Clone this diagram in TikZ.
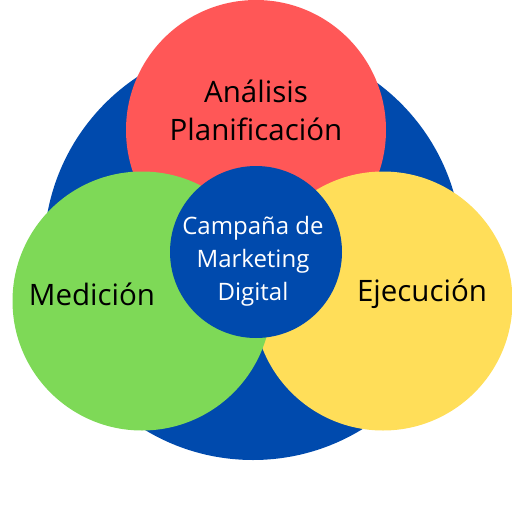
\documentclass[tikz,border=0pt]{standalone}
\usepackage{fontspec}
\setmainfont{Open Sans}
\usetikzlibrary{positioning}
\definecolor{cblue}{HTML}{004AAD}
\definecolor{cred}{HTML}{FF5757}
\definecolor{cgreen}{HTML}{7ED957}
\definecolor{cyellow}{HTML}{FFDE59}

\begin{document}
\begin{tikzpicture}[x=1pt,y=-1pt,
    disc/.style={circle,inner sep=0pt,minimum size=#1},
    bigtext/.style={font=\fontsize{29.5}{38}\selectfont,text=black,align=center},
    smalltext/.style={font=\fontsize{24}{33}\selectfont,text=white,align=center}]
    \useasboundingbox (0,0) rectangle (512,512);
    % circles, back to front
    \node[disc=418pt,fill=cblue] (outer) at (253,251) {};
    \node[disc=260pt,fill=cred] (analisis) at (256,130) {};
    \node[disc=259pt,fill=cyellow] (ejecucion) at (383,301) {};
    \node[disc=259pt,fill=cgreen] (medicion) at (142,301) {};
    \node[disc=172pt,fill=cblue] (campana) at (256,252) {};
    % texts
    \node[bigtext] (tanalisis) at (256,110) {Análisis\\Planificación};
    \node[bigtext] (tmedicion) at (92,294) {Medición};
    \node[bigtext] (tejecucion) at (422,294) {Ejecución};
    \node[smalltext] (tcampana) at (253,261) {Campaña de\\Marketing\\Digital};
\end{tikzpicture}
\end{document}
